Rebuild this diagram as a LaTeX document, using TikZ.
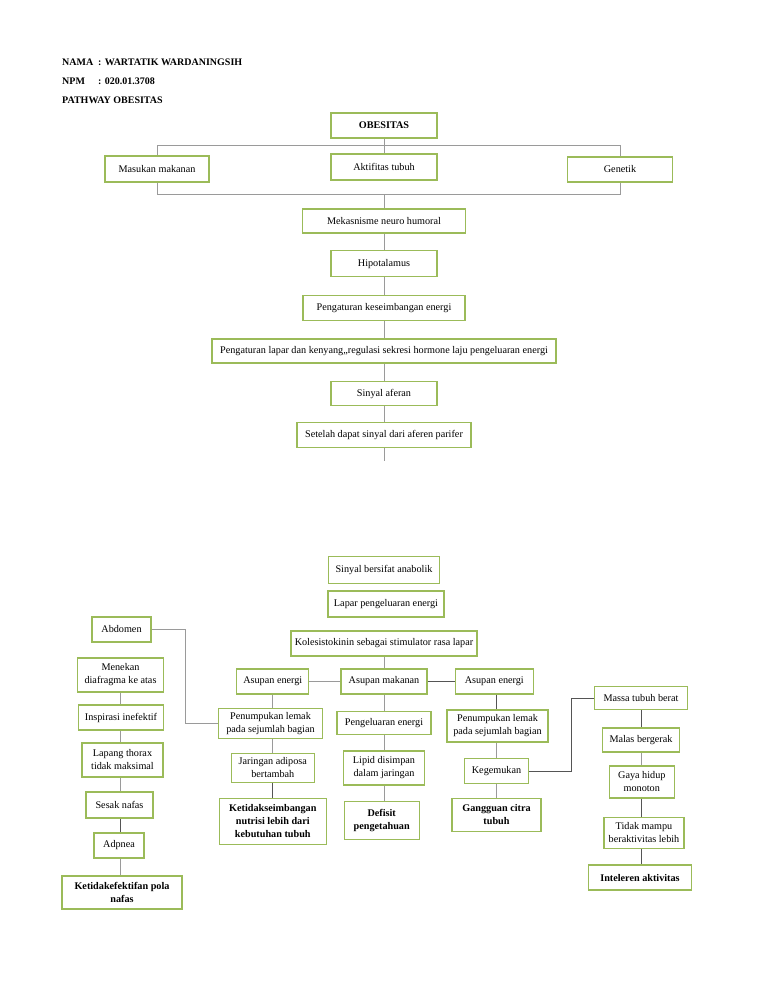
\documentclass[tikz,border=0pt]{standalone}
\usepackage{fontspec}
\setmainfont{Liberation Serif}
\definecolor{boxgreen}{HTML}{9BBB59}
\definecolor{lgray}{HTML}{9A9A9A}
\definecolor{dgray}{HTML}{555555}
\begin{document}
\begin{tikzpicture}[x=1pt,y=-1pt,
  box/.style={draw=boxgreen,line width=1.2pt,inner sep=0pt,align=center,
    font=\fontsize{10.2}{13}\selectfont},
  bbox/.style={box,font=\fontsize{10.2}{13}\selectfont\bfseries},
  conn/.style={draw=lgray,line width=0.9pt},
  dconn/.style={draw=dgray,line width=0.9pt},
  head/.style={anchor=west,inner sep=0pt,font=\fontsize{10}{11}\selectfont\bfseries}]
\fill[white] (0,0) rectangle (768,1004);
\useasboundingbox (0,0) rectangle (768,1004);
% header
\node[head] (h1) at (62,62) {NAMA};
\node[head] (h1b) at (98,62) {: WARTATIK WARDANINGSIH};
\node[head] (h2) at (62,81) {NPM};
\node[head] (h2b) at (98,81) {: 020.01.3708};
\node[head] (h3) at (62,100) {PATHWAY OBESITAS};
% top part
\node[bbox,minimum width=106pt,minimum height=25pt] (obes) at (384,125.5) {OBESITAS};
\node[box,minimum width=104pt,minimum height=26pt] (mas) at (157,169) {Masukan makanan};
\node[box,minimum width=106pt,minimum height=26pt] (akt) at (384,167) {Aktifitas tubuh};
\node[box,minimum width=105pt,minimum height=25pt] (gen) at (620,169.5) {Genetik};
\coordinate (ytop) at (0,145);
\coordinate (ybot) at (0,194);
\draw[conn] (mas.north) -- (mas.north |- ytop) -- (gen.north |- ytop) -- (gen.north);
\draw[conn] (obes) -- (akt);
\draw[conn] (mas.south) -- (mas.south |- ybot) -- (gen.south |- ybot) -- (gen.south);
\node[box,minimum width=163pt,minimum height=24pt] (mek) at (384,221) {Mekasnisme neuro humoral};
\draw[conn] (mek.north |- ybot) -- (mek.north);
\node[box,minimum width=106pt,minimum height=26pt] (hip) at (384,263.7) {Hipotalamus};
\node[box,minimum width=162pt,minimum height=25pt] (pke) at (384,308.2) {Pengaturan keseimbangan energi};
\node[box,minimum width=344pt,minimum height=24pt] (plk) at (384,351) {Pengaturan lapar dan kenyang,,regulasi sekresi hormone laju pengeluaran energi};
\node[box,minimum width=106pt,minimum height=24pt] (saf) at (384,393.7) {Sinyal aferan};
\node[box,minimum width=174pt,minimum height=24.6pt] (set) at (384,435) {Setelah dapat sinyal dari aferen parifer};
\coordinate (setend) at (384,461);
\draw[conn] (mek) -- (hip);
\draw[conn] (hip) -- (pke);
\draw[conn] (pke) -- (plk);
\draw[conn] (plk) -- (saf);
\draw[conn] (saf) -- (set);
\draw[conn] (set) -- (setend);
% bottom part, middle
\node[box,minimum width=111pt,minimum height=27pt] (sba) at (384,569.7) {Sinyal bersifat anabolik};
\node[box,minimum width=116pt,minimum height=26pt] (lpe) at (386,604) {Lapar pengeluaran energi};
\node[box,minimum width=186pt,minimum height=25pt] (kol) at (384,643.5) {Kolesistokinin sebagai stimulator rasa lapar};
\node[box,minimum width=72pt,minimum height=25pt] (asuL) at (272.8,681.5) {Asupan energi};
\node[box,minimum width=86pt,minimum height=25pt] (asuM) at (384,681.5) {Asupan makanan};
\node[box,minimum width=78pt,minimum height=25pt] (asuR) at (494.3,681.5) {Asupan energi};
\draw[conn] (kol) -- (asuM);
\draw[conn] (asuL) -- (asuM);
\draw[dconn] (asuM) -- (asuR);
% left branch
\node[box,minimum width=104pt,minimum height=30pt] (penL) at (270.5,723.3) {Penumpukan lemak\\pada sejumlah bagian};
\node[box,minimum width=83pt,minimum height=29pt] (jarL) at (272.8,767.8) {Jaringan adiposa\\bertambah};
\node[bbox,minimum width=107pt,minimum height=46pt] (ketN) at (272.8,821.2) {Ketidakseimbangan\\nutrisi lebih dari\\kebutuhan tubuh};
\draw[conn] (asuL) -- (asuL |- penL.north);
\draw[conn] (asuL |- penL.south) -- (jarL);
\draw[dconn] (jarL) -- (ketN);
% middle branch
\node[box,minimum width=94pt,minimum height=23pt] (pen) at (384,722.7) {Pengeluaran energi};
\node[box,minimum width=81pt,minimum height=34pt] (lip) at (384,768) {Lipid disimpan\\dalam jaringan};
\node[bbox,minimum width=75pt,minimum height=38pt] (def) at (381.7,820.8) {Defisit\\pengetahuan};
\draw[conn] (asuM) -- (pen);
\draw[conn] (pen) -- (lip);
\draw[conn] (lip) -- (lip |- def.north);
% right branch
\node[box,minimum width=101pt,minimum height=32pt] (penR) at (497.5,726) {Penumpukan lemak\\pada sejumlah bagian};
\node[box,minimum width=64pt,minimum height=25pt] (keg) at (496.5,771) {Kegemukan};
\node[bbox,minimum width=89pt,minimum height=33pt] (gang) at (496.5,815) {Gangguan citra\\tubuh};
\draw[dconn] (asuR.south -| keg) -- (penR.north -| keg);
\draw[conn] (penR.south -| keg) -- (keg);
\draw[conn] (keg) -- (gang);
% far right column
\node[box,minimum width=93pt,minimum height=23pt] (mas2) at (641,698) {Massa tubuh berat};
\node[box,minimum width=77pt,minimum height=24pt] (mal) at (641,740) {Malas bergerak};
\node[box,minimum width=65pt,minimum height=32pt] (gay) at (641.8,782) {Gaya hidup\\monoton};
\node[box,minimum width=80pt,minimum height=31pt] (tid) at (644,832.8) {Tidak mampu\\beraktivitas lebih};
\node[bbox,minimum width=103pt,minimum height=25pt] (int) at (640,877.5) {Inteleren aktivitas};
\coordinate (kx) at (571,0);
\draw[dconn] (keg.east) -- (keg.east -| kx) |- (mas2.west);
\draw[dconn] (mas2.south -| 641,0) -- (mal.north -| 641,0);
\draw[conn] (mal.south -| 641,0) -- (gay.north -| 641,0);
\draw[dconn] (gay.south -| 641,0) -- (tid.north -| 641,0);
\draw[dconn] (tid.south -| 641,0) -- (int.north -| 641,0);
% far left column
\node[box,minimum width=59pt,minimum height=25pt] (abd) at (121.5,629.5) {Abdomen};
\node[box,minimum width=86pt,minimum height=34pt] (men) at (120.5,675) {Menekan\\diafragma ke atas};
\node[box,minimum width=85pt,minimum height=25pt] (ins) at (121,717.5) {Inspirasi inefektif};
\node[box,minimum width=81pt,minimum height=34pt] (lth) at (122.5,760) {Lapang thorax\\tidak maksimal};
\node[box,minimum width=67pt,minimum height=26pt] (ses) at (119.5,805) {Sesak nafas};
\node[box,minimum width=50pt,minimum height=25pt] (adp) at (119,845.5) {Adpnea};
\node[bbox,minimum width=120pt,minimum height=33pt] (ketP) at (122,892.5) {Ketidakefektifan pola\\nafas};
\coordinate (ax) at (185,0);
\draw[conn] (abd.east) -- (abd.east -| ax) |- (penL.west);
\draw[conn] (men.south -| 120,0) -- (ins.north -| 120,0);
\draw[conn] (ins.south -| 120,0) -- (lth.north -| 120,0);
\draw[conn] (lth.south -| 120,0) -- (ses.north -| 120,0);
\draw[dconn] (ses.south -| 120,0) -- (adp.north -| 120,0);
\draw[conn] (adp.south -| 120,0) -- (ketP.north -| 120,0);
\end{tikzpicture}
\end{document}
